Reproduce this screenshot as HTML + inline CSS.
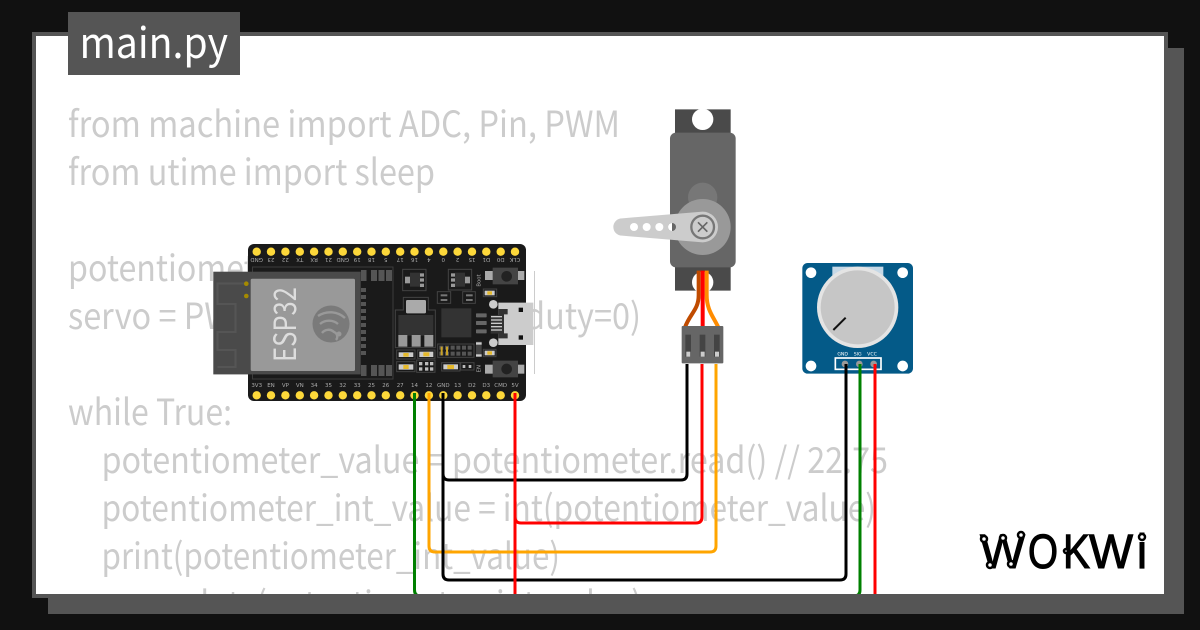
<!DOCTYPE html>
<html><head><meta charset="utf-8"><style>
html,body{margin:0;padding:0;background:#111;width:1200px;height:630px;overflow:hidden}
svg{display:block}
.c{font-family:"Noto Sans CJK SC","DejaVu Sans",sans-serif;font-size:36px;fill:#ccc}
.p{font-family:"DejaVu Sans",sans-serif;font-size:5.5px;fill:#aaa;text-anchor:middle}
.w{fill:none;stroke-width:3;stroke-linejoin:round}
.l{font-family:"Liberation Sans",sans-serif;font-size:48px;fill:#000;stroke:#000;stroke-width:1.1}
</style></head><body>
<svg width="1200" height="630" viewBox="0 0 1200 630" xmlns="http://www.w3.org/2000/svg">
<rect width="1200" height="630" fill="#111"/>
<rect x="48" y="48" width="1136" height="566" fill="#555"/>
<rect x="36" y="36" width="1128" height="558" fill="#fff"/>
<g class="c">
<text x="68" y="137" textLength="552" lengthAdjust="spacingAndGlyphs">from machine import ADC, Pin, PWM</text>
<text x="68" y="185" textLength="367" lengthAdjust="spacingAndGlyphs">from utime import sleep</text>
<text x="68" y="281" textLength="440" lengthAdjust="spacingAndGlyphs">potentiometer = ADC(Pin(34))</text>
<text x="68" y="329" textLength="573" lengthAdjust="spacingAndGlyphs">servo = PWM(Pin(15), freq=50, duty=0)</text>
<text x="68" y="425" textLength="164" lengthAdjust="spacingAndGlyphs">while True:</text>
<text x="101.500" y="473" textLength="786.500" lengthAdjust="spacingAndGlyphs">potentiometer_value = potentiometer.read() // 22.75</text>
<text x="101.500" y="521" textLength="774.500" lengthAdjust="spacingAndGlyphs">potentiometer_int_value = int(potentiometer_value)</text>
<text x="101.500" y="569" textLength="458.500" lengthAdjust="spacingAndGlyphs">print(potentiometer_int_value)</text>
<text x="101.500" y="617" textLength="540.500" lengthAdjust="spacingAndGlyphs">servo.duty(potentiometer_int_value)</text>
</g>

<!-- ESP32 board -->
<line x1="534.500" y1="271" x2="534.500" y2="374" stroke="#ccc" stroke-width="1"/>
<rect x="248" y="244" width="278" height="157" rx="6" fill="#1a1a1a"/>
<g fill="#fdd83a">
<circle cx="256.7" cy="251.7" r="4.2"/><circle cx="271" cy="251.7" r="4.2"/><circle cx="285.4" cy="251.7" r="4.2"/><circle cx="299.8" cy="251.7" r="4.2"/><circle cx="314.1" cy="251.7" r="4.2"/><circle cx="328.5" cy="251.7" r="4.2"/><circle cx="342.8" cy="251.7" r="4.2"/><circle cx="357.2" cy="251.7" r="4.2"/><circle cx="371.5" cy="251.7" r="4.2"/><circle cx="385.8" cy="251.7" r="4.2"/><circle cx="400.2" cy="251.7" r="4.2"/><circle cx="414.5" cy="251.7" r="4.2"/><circle cx="428.9" cy="251.7" r="4.2"/><circle cx="443.3" cy="251.7" r="4.2"/><circle cx="457.6" cy="251.7" r="4.2"/><circle cx="472" cy="251.7" r="4.2"/><circle cx="486.3" cy="251.7" r="4.2"/><circle cx="500.7" cy="251.7" r="4.2"/><circle cx="515" cy="251.7" r="4.2"/>
<circle cx="256.7" cy="395.3" r="4.2"/><circle cx="271" cy="395.3" r="4.2"/><circle cx="285.4" cy="395.3" r="4.2"/><circle cx="299.8" cy="395.3" r="4.2"/><circle cx="314.1" cy="395.3" r="4.2"/><circle cx="328.5" cy="395.3" r="4.2"/><circle cx="342.8" cy="395.3" r="4.2"/><circle cx="357.2" cy="395.3" r="4.2"/><circle cx="371.5" cy="395.3" r="4.2"/><circle cx="385.8" cy="395.3" r="4.2"/><circle cx="400.2" cy="395.3" r="4.2"/><circle cx="414.5" cy="395.3" r="4.2"/><circle cx="428.9" cy="395.3" r="4.2"/><circle cx="443.3" cy="395.3" r="4.2"/><circle cx="457.6" cy="395.3" r="4.2"/><circle cx="472" cy="395.3" r="4.2"/><circle cx="486.3" cy="395.3" r="4.2"/><circle cx="500.7" cy="395.3" r="4.2"/><circle cx="515" cy="395.3" r="4.2"/>
</g>
<g class="p">
<text x="256.7" y="387">3V3</text><text x="271" y="387">EN</text><text x="285.4" y="387">VP</text><text x="299.8" y="387">VN</text><text x="314.1" y="387">34</text><text x="328.5" y="387">35</text><text x="342.8" y="387">32</text><text x="357.2" y="387">33</text><text x="371.5" y="387">25</text><text x="385.8" y="387">26</text><text x="400.2" y="387">27</text><text x="414.5" y="387">14</text><text x="428.9" y="387">12</text><text x="443.3" y="387">GND</text><text x="457.6" y="387">13</text><text x="472" y="387">D2</text><text x="486.3" y="387">D3</text><text x="500.7" y="387">CMD</text><text x="515" y="387">5V</text>
<text transform="rotate(180 256.7 260)" x="256.7" y="262">GND</text><text transform="rotate(180 271 260)" x="271" y="262">23</text><text transform="rotate(180 285.4 260)" x="285.4" y="262">22</text><text transform="rotate(180 299.8 260)" x="299.8" y="262">TX</text><text transform="rotate(180 314.1 260)" x="314.1" y="262">RX</text><text transform="rotate(180 328.5 260)" x="328.5" y="262">21</text><text transform="rotate(180 342.8 260)" x="342.8" y="262">GND</text><text transform="rotate(180 357.2 260)" x="357.2" y="262">19</text><text transform="rotate(180 371.5 260)" x="371.5" y="262">18</text><text transform="rotate(180 385.8 260)" x="385.8" y="262">5</text><text transform="rotate(180 400.2 260)" x="400.2" y="262">17</text><text transform="rotate(180 414.5 260)" x="414.5" y="262">16</text><text transform="rotate(180 428.9 260)" x="428.9" y="262">4</text><text transform="rotate(180 443.3 260)" x="443.3" y="262">0</text><text transform="rotate(180 457.6 260)" x="457.6" y="262">2</text><text transform="rotate(180 472 260)" x="472" y="262">15</text><text transform="rotate(180 486.3 260)" x="486.3" y="262">D1</text><text transform="rotate(180 500.7 260)" x="500.7" y="262">D0</text><text transform="rotate(180 515 260)" x="515" y="262">CLK</text>
</g>
<!-- module outline and pads -->
<rect x="252.5" y="267" width="140.5" height="112" fill="none" stroke="#3c3c3c" stroke-width="1"/>
<g fill="#555">
<rect x="361" y="270" width="5.5" height="11"/><rect x="371" y="270" width="6" height="11"/><rect x="378.5" y="270" width="6" height="11"/><rect x="386" y="270" width="6" height="11"/>
<rect x="361" y="365" width="5.5" height="11"/><rect x="371" y="365" width="6" height="11"/><rect x="378.5" y="365" width="6" height="11"/><rect x="386" y="365" width="6" height="11"/>
<rect x="361" y="288" width="5" height="4"/><rect x="361" y="295" width="5" height="4"/><rect x="361" y="302" width="5" height="4"/><rect x="361" y="309" width="5" height="4"/><rect x="361" y="316" width="5" height="4"/><rect x="361" y="323" width="5" height="4"/><rect x="361" y="330" width="5" height="4"/><rect x="361" y="337" width="5" height="4"/><rect x="361" y="344" width="5" height="4"/><rect x="361" y="351" width="5" height="4"/>
</g>
<rect x="213.3" y="271.7" width="147.4" height="102.7" fill="#4a4a4a"/>
<path d="M246 283.500 H217.500 V304 H235.500 V332 H217.500 V350 H235.500 V367 H217.500" fill="none" stroke="#555" stroke-width="2"/>
<circle cx="246.3" cy="283.7" r="2.3" fill="#a58a00"/><circle cx="246.3" cy="296" r="2.3" fill="#a58a00"/>
<rect x="250.7" y="278.7" width="104.3" height="92.3" rx="1.500" fill="#999"/>
<text transform="translate(296 362) rotate(-90)" font-family="'Noto Sans CJK SC','DejaVu Sans',sans-serif" font-size="31" fill="#ddd" textLength="75" lengthAdjust="spacingAndGlyphs">ESP32</text>
<circle cx="331" cy="324" r="18.5" fill="#7a7a7a"/>
<path d="M318 316 a22 22 0 0 1 27 2 M320 324 a14 14 0 0 1 18 0 M322 333 a8 8 0 0 1 12 -1 a5 5 0 0 1 2 8" fill="none" stroke="#999" stroke-width="2.4"/>
<circle cx="339" cy="334" r="2.5" fill="#999"/>

<!-- right side of board, in 3x zoom coords -->
<g transform="translate(370 235) scale(.33333)">
<g fill="none" stroke="#444" stroke-width="3">
<rect x="98" y="103" width="70" height="64"/><rect x="235" y="103" width="70" height="62"/>
<rect x="202" y="170" width="40" height="35"/><rect x="278" y="170" width="38" height="35"/>
<path d="M100 225V187H175V225H196V338H76V225Z"/>
<rect x="203" y="327" width="109" height="40"/>
<rect x="80" y="345" width="55" height="27"/><rect x="143" y="345" width="52" height="25"/><rect x="80" y="380" width="55" height="30"/><rect x="140" y="375" width="55" height="37"/><rect x="215" y="383" width="55" height="25"/><rect x="272" y="383" width="40" height="22"/><rect x="340" y="343" width="38" height="22"/><rect x="340" y="162" width="40" height="23"/>
</g>
<rect x="120" y="113" width="30" height="42" fill="#333"/>
<g fill="#999"><rect x="105" y="125" width="15" height="20"/><rect x="150" y="115" width="12" height="10"/><rect x="150" y="130" width="12" height="10"/><rect x="150" y="146" width="12" height="10"/></g>
<rect x="255" y="113" width="30" height="42" fill="#333"/>
<g fill="#999"><rect x="285" y="125" width="15" height="20"/><rect x="243" y="115" width="12" height="10"/><rect x="243" y="130" width="12" height="10"/><rect x="243" y="146" width="12" height="10"/></g>
<g fill="#777"><rect x="212" y="178" width="20" height="6"/><rect x="212" y="192" width="20" height="6"/><rect x="288" y="178" width="20" height="6"/><rect x="288" y="192" width="20" height="6"/></g>
<rect x="85" y="240" width="105" height="62" fill="#333"/>
<rect x="108" y="195" width="60" height="40" rx="4" fill="#aaa"/>
<g fill="#999"><rect x="85" y="300" width="27" height="35"/><rect x="125" y="300" width="27" height="35"/><rect x="163" y="300" width="27" height="35"/></g>
<rect x="214" y="220" width="90" height="87" fill="#333"/>
<!-- array -->
<g fill="#555"><rect x="208" y="332" width="12" height="12"/><rect x="208" y="350" width="12" height="12"/><rect x="225" y="332" width="12" height="12"/><rect x="225" y="350" width="12" height="12"/><rect x="242" y="332" width="12" height="12"/><rect x="242" y="350" width="12" height="12"/><rect x="259" y="332" width="12" height="12"/><rect x="259" y="350" width="12" height="12"/><rect x="276" y="332" width="12" height="12"/><rect x="276" y="350" width="12" height="12"/><rect x="293" y="332" width="12" height="12"/><rect x="293" y="350" width="12" height="12"/></g>
<g fill="#c9a227"><rect x="212" y="335" width="6" height="26"/><rect x="228" y="335" width="6" height="26"/></g>
<!-- small caps -->
<g fill="#ccc"><rect x="86" y="352" width="44" height="14"/><rect x="148" y="350" width="42" height="16"/><rect x="86" y="388" width="44" height="16"/><rect x="220" y="388" width="44" height="15"/><rect x="344" y="347" width="30" height="14"/><rect x="344" y="167" width="30" height="14"/></g>
<g fill="#e5b92b"><rect x="100" y="354" width="16" height="11"/><rect x="160" y="352" width="18" height="12"/><rect x="100" y="390" width="16" height="12"/><rect x="232" y="390" width="20" height="12"/><rect x="352" y="349" width="14" height="10"/><rect x="352" y="169" width="14" height="10"/></g>
<g fill="#bbb"><rect x="147" y="381" width="10" height="10"/><rect x="147" y="397" width="10" height="10"/><rect x="165" y="381" width="10" height="10"/><rect x="165" y="397" width="10" height="10"/><rect x="180" y="381" width="10" height="10"/><rect x="180" y="397" width="10" height="10"/><rect x="278" y="390" width="8" height="9"/><rect x="296" y="390" width="8" height="9"/></g>
<rect x="318" y="320" width="17" height="45" fill="#444"/>
<rect x="318" y="322" width="17" height="7" fill="#ccc"/><rect x="318" y="358" width="17" height="7" fill="#ccc"/>
<!-- side pads -->
<g fill="#666"><rect x="318" y="235" width="32" height="12" rx="2"/><rect x="318" y="258" width="32" height="12" rx="2"/><rect x="318" y="283" width="32" height="12" rx="2"/></g>
<!-- buttons -->
<g fill="#aaa"><rect x="345" y="108" width="118" height="27"/><rect x="345" y="389" width="118" height="27"/></g>
<rect x="368" y="98" width="76" height="50" fill="#444"/><circle cx="410" cy="124" r="16" fill="#222"/>
<rect x="368" y="377" width="76" height="50" fill="#444"/><circle cx="410" cy="402" r="16" fill="#222"/>
<g font-family="'DejaVu Sans',sans-serif" font-size="16" fill="#aaa"><text transform="translate(332 155) rotate(-90)">Boot</text><text transform="translate(332 412) rotate(-90)">EN</text></g>
<!-- USB -->
<path d="M385 203H490V330H385Z" fill="#ccc"/>
<circle cx="370" cy="208" r="13" fill="#ccc"/><circle cx="370" cy="323" r="13" fill="#ccc"/>
<path d="M362 240H385V222H413V238H402V295H413V310H385V296H362Z" fill="#333"/>
<g fill="#ccc"><rect x="363" y="243" width="33" height="4"/><rect x="363" y="253" width="33" height="4"/><rect x="363" y="263" width="33" height="4"/><rect x="363" y="273" width="33" height="4"/><rect x="363" y="283" width="33" height="4"/></g>
<rect x="446" y="218" width="13" height="13" fill="#111"/><rect x="446" y="301" width="13" height="13" fill="#111"/>
</g>

<!-- Servo, 3x zoom coords -->
<g transform="translate(605 100) scale(.33333)">
<path d="M210 28H377V100H210Z M210 500H377V572H210Z" fill="#4a4a4a"/>
<circle cx="293" cy="58" r="32" fill="#fff"/><circle cx="293" cy="547" r="32" fill="#fff"/>
<rect x="195" y="98" width="197" height="404" rx="18" fill="#666"/>
<circle cx="293" cy="292" r="44" fill="#777"/>
<circle cx="293" cy="381" r="84" fill="#999"/>
<path d="M293 335 a46 46 0 0 1 0 92 L51 407 a26 26 0 0 1 0 -52 Z" fill="#ccc"/>
<circle cx="87" cy="381" r="12" fill="#fff"/><circle cx="125" cy="381" r="12" fill="#fff"/><circle cx="163" cy="381" r="12" fill="#fff"/>
<circle cx="201" cy="381" r="12" fill="#666"/><path d="M201 369 a12 12 0 0 0 0 24Z" fill="#fff"/>
<circle cx="293" cy="381" r="34" fill="#ccc" stroke="#777" stroke-width="7"/>
<path d="M279 367 L307 395 M307 367 L279 395" stroke="#666" stroke-width="5"/>
<g fill="none" stroke-width="12">
<path d="M281 512 V585 C281 630 255 640 240 682" stroke="#c04b00"/>
<path d="M305 512 V585 C305 630 325 650 340 682" stroke="#ff8c00"/>
<path d="M293 512 V682" stroke="#f00"/>
</g>
<rect x="230" y="678" width="125" height="112" rx="3" fill="#666"/>
<g fill="#444"><rect x="241" y="704" width="17" height="66"/><rect x="284" y="704" width="17" height="66"/><rect x="327" y="704" width="17" height="66"/></g>
<g fill="#ccc"><rect x="244" y="755" width="12" height="15"/><rect x="287" y="755" width="12" height="15"/><rect x="330" y="755" width="12" height="15"/></g>
</g>

<!-- Potentiometer, 3x zoom coords -->
<g transform="translate(795 255) scale(.33333)">
<rect x="22" y="24" width="332" height="332" rx="16" fill="#045a88"/>
<circle cx="48" cy="53" r="16" fill="#fff"/><circle cx="323" cy="53" r="16" fill="#fff"/><circle cx="48" cy="333" r="16" fill="#fff"/><circle cx="323" cy="333" r="16" fill="#fff"/>
<rect x="112" y="35" width="153" height="60" fill="#c5d8e6"/>
<circle cx="188" cy="157" r="122" fill="#e4e4e4"/>
<circle cx="188" cy="157" r="111" fill="#c6c6c6"/>
<line x1="115" y1="225" x2="152" y2="188" stroke="#111" stroke-width="6"/>
<g font-family="'DejaVu Sans',sans-serif" font-size="14" fill="#fff" text-anchor="middle"><text x="143" y="302">GND</text><text x="188" y="302">SIG</text><text x="231" y="302">VCC</text></g>
<rect x="121" y="309" width="137" height="34" fill="#045a88" stroke="#fff" stroke-width="5"/>
<circle cx="150" cy="327" r="10" fill="#999"/><circle cx="193" cy="327" r="10" fill="#999"/><circle cx="236" cy="327" r="10" fill="#999"/>
</g>

<!-- Wires -->
<path class="w" stroke="#f00" d="M515 393 V517 q0 6 6 6 H696 q6 0 6 -6 V364"/>
<path class="w" stroke="#ffa500" d="M429 393 V546 q0 6 6 6 H710 q6 0 6 -6 V364"/>
<path class="w" stroke="#000" d="M443 393 V474 q0 6 6 6 H681 q6 0 6 -6 V364"/>
<path class="w" stroke="#000" d="M443 393 V574 q0 6 6 6 H840 q6 0 6 -6 V364"/>
<path class="w" stroke="#008000" d="M414.500 393 V590 q0 6 6 6 H854 q6 0 6 -6 V364"/>
<path class="w" stroke="#f00" d="M515 393 V610 M875 364 V610"/>

<!-- card border, on top -->
<path d="M32 32H1168V598H32Z M36 36V594H1164V36Z" fill="#555" fill-rule="evenodd"/>
<rect x="36" y="594" width="1148" height="20" fill="#555"/>
<rect x="48" y="598" width="1136" height="16" fill="#555"/>
<path d="M0 614H1200V630H0Z M0 598H48V614H0Z" fill="#111"/>
<rect x="68" y="12" width="172" height="63" fill="#555"/>
<text x="79.500" y="58" font-family="'Noto Sans CJK SC','DejaVu Sans',sans-serif" font-size="42" fill="#fff" textLength="148.500" lengthAdjust="spacingAndGlyphs">main.py</text>

<!-- logo -->
<g class="l">
<text x="980" y="568" textLength="45" lengthAdjust="spacingAndGlyphs">W</text>
<text x="1028" y="568" textLength="30" lengthAdjust="spacingAndGlyphs">O</text>
<text x="1063" y="568" textLength="27" lengthAdjust="spacingAndGlyphs">K</text>
<text x="1089" y="568" textLength="44" lengthAdjust="spacingAndGlyphs">W</text>
<text x="1137" y="568" textLength="10" lengthAdjust="spacingAndGlyphs">i</text>
</g>
<g fill="#fff" stroke="#000" stroke-width="2.5"><circle cx="984" cy="539" r="3"/><circle cx="1003" cy="538" r="3"/><circle cx="1021" cy="535" r="3"/><circle cx="990" cy="565" r="3"/><circle cx="1011" cy="564" r="3"/><circle cx="1066" cy="551" r="2"/><circle cx="1142" cy="537" r="3"/></g>
</svg>
</body></html>
